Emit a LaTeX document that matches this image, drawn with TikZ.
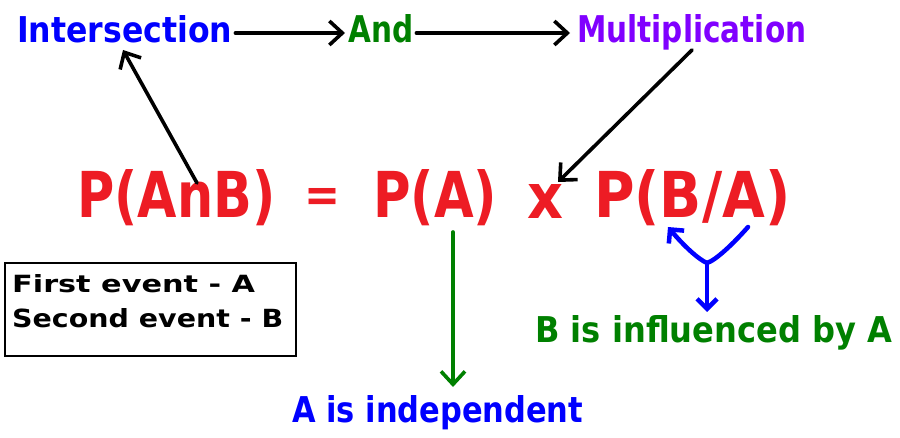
\documentclass[tikz,border=0pt]{standalone}
\usepackage{fontspec}
\setmainfont{DejaVu Sans}
\usepackage{graphicx}
\usetikzlibrary{arrows.meta}
\definecolor{eqred}{RGB}{237,28,36}
\definecolor{myblue}{RGB}{0,0,255}
\definecolor{mygreen}{RGB}{0,128,0}
\definecolor{mypurple}{RGB}{128,0,255}
\newcommand\fitto[3]{\resizebox{#1pt}{#2pt}{#3}}
\begin{document}
\begin{tikzpicture}[x=1pt,y=-1pt,
  txt/.style={inner sep=0pt, anchor=base west},
  ctr/.style={inner sep=0pt, anchor=center},
  arr/.style={-{Straight Barb[length=13pt,width=24pt]}, line width=3.6pt, line cap=round, line join=round},
  barr/.style={-{Straight Barb[length=10pt,width=20pt]}, line width=4.5pt, line cap=round, line join=round, myblue}]
\useasboundingbox (0,0) rectangle (900,438);
\fill[white] (0,0) rectangle (900,438);
% top row
\node[txt, text=myblue] (inter) at (17,43) {\fitto{215}{27}{\bfseries Intersection}};
\node[txt, text=mygreen] (and) at (348,43) {\fitto{65}{28}{\bfseries And}};
\node[txt, text=mypurple] (mult) at (577,43) {\fitto{229}{28}{\bfseries Multiplication}};
\draw[arr] ([shift={(3pt,10pt)}]inter.base east) -- ([shift={(-3pt,10pt)}]and.base west);
\draw[arr] ([shift={(3pt,10pt)}]and.base east) -- ([shift={(-7pt,10pt)}]mult.base west);
% equation
\node[txt, text=eqred] (pab) at (77,218) {\fitto{198}{48}{\bfseries P(AnB)}};
\node[ctr, text=eqred] (eq) at (322,200) {\fitto{36}{23}{\bfseries =}};
\node[txt, text=eqred] (pa) at (373,218) {\fitto{124}{48}{\bfseries P(A)}};
\node[ctr, text=eqred] (times) at (545,202) {\fitto{36}{34}{\bfseries x}};
\node[txt, text=eqred] (pba) at (594,218) {\fitto{196}{48}{\bfseries P(B/A)}};
% connectors to the equation
\coordinate (c1) at (197,183);
\coordinate (c2) at (123,50);
\draw[arr] (c1) -- (c2);
\coordinate (c3) at (692,50);
\coordinate (c4) at (558,182);
\draw[arr] (c3) -- (c4);
% legend box
\node[txt] (first) at (12,293) {\fitto{243}{18}{\bfseries First event - A}};
\node[txt] (second) at (12,327) {\fitto{271}{19}{\bfseries Second event - B}};
\draw[line width=2.2pt] (5,263) rectangle (296,356);
% bottom labels
\node[txt, text=myblue] (indep) at (292,422) {\fitto{291}{27}{\bfseries A is independent}};
\node[txt, text=mygreen] (infl) at (535,342) {\fitto{357}{27}{\bfseries B is influenced by A}};
\coordinate (g1) at (453,232);
\coordinate (g2) at (453,387);
\draw[arr, mygreen] (g1) -- (g2);
% blue Y
\coordinate (J) at (707,263);
\coordinate (JL) at (668,227);
\coordinate (JR) at (748,227);
\coordinate (JB) at (707,312);
\draw[barr] (J) .. controls (698,259) and (684,246) .. (JL);
\draw[line width=4.5pt, line cap=round, myblue] (J) .. controls (716,260) and (733,244) .. (JR);
\draw[barr] (J) -- (JB);
\end{tikzpicture}
\end{document}
